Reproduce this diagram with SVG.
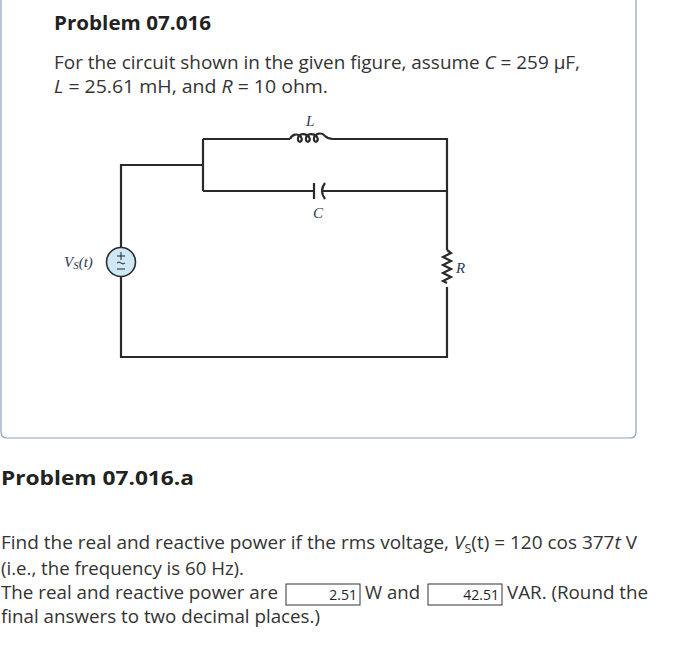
<svg xmlns="http://www.w3.org/2000/svg" width="675" height="648" viewBox="0 0 675 648">
<style>
.t{font-family:"Open Sans","Liberation Sans",sans-serif;font-size:18px;fill:#333}
.h{font-family:"Open Sans","Liberation Sans",sans-serif;font-size:20px;font-weight:bold;fill:#222}
.w{fill:none;stroke:#2a2a2a;stroke-width:2.2}
.lb{font-family:"Liberation Serif",serif;font-style:italic;font-size:15px;fill:#2a3a5a}
.bx{fill:#fff;stroke:#333;stroke-width:1}
.a{font-family:"Open Sans","Liberation Sans",sans-serif;font-size:14px;fill:#222}
</style>
<rect width="675" height="648" fill="#fff"/>
<path d="M1,-5 V432 Q1,438 7,438 H630 Q636,438 636,432 V-5" fill="none" stroke="#8aa0c0" stroke-width="1.2"/>
<text class="h" x="54" y="30" textLength="157" lengthAdjust="spacingAndGlyphs">Problem 07.016</text>
<text class="t" x="54" y="69" textLength="526" lengthAdjust="spacingAndGlyphs">For the circuit shown in the given figure, assume <tspan font-style="italic">C</tspan> = 259 μF,</text>
<text class="t" x="54" y="93" textLength="274" lengthAdjust="spacingAndGlyphs"><tspan font-style="italic">L</tspan> = 25.61 mH, and <tspan font-style="italic">R</tspan> = 10 ohm.</text>
<g id="connectors">
<path class="w" d="M121,247 V165 H203 M203,139 V191 M203,139 H290 M333,139 H447 V250 M203,191 H313 M323,191 H447 M447,287 V357 H121 V277"/>
</g>
<g id="L">
<path class="w" stroke-width="1.6" d="M290,139 C292,134 298,133 301,137 C304,142 297,144 298,138 C299,133 306,133 309,137 C312,142 305,144 306,138 C307,133 314,133 317,137 C320,142 313,144 314,138 C315,133 322,132 325,136 C327,138 330,139 333,139"/>
<text class="lb" x="306" y="126">L</text>
</g>
<g id="C">
<line class="w" x1="314" y1="183" x2="314" y2="199"/>
<path class="w" d="M325,183 Q319,191 325,199"/>
<text class="lb" x="313" y="218">C</text>
</g>
<g id="R">
<path class="w" stroke-width="1.6" d="M447,250 l4,3 l-8,4 l8,4 l-8,4 l8,4 l-8,4 l8,4 l-8,4 l4,2"/>
<text class="lb" x="456" y="273">R</text>
</g>
<g id="Vs">
<circle cx="121" cy="262" r="14.5" fill="#cfe8f5" stroke="#2a2a2a" stroke-width="1.6"/>
<path d="M117,256 h8 M121,252 v8 M117,263 q2,-2 4,0 q2,2 4,0 M117,269 h8" stroke="#222" stroke-width="1" fill="none"/>
<text class="lb" x="64" y="267">V<tspan font-size="11" dy="2">S</tspan><tspan dy="-2">(t)</tspan></text>
</g>
<text class="h" x="1" y="485" textLength="193" lengthAdjust="spacingAndGlyphs">Problem 07.016.a</text>
<text class="t" x="1" y="549" textLength="636" lengthAdjust="spacingAndGlyphs">Find the real and reactive power if the rms voltage, <tspan font-style="italic">V</tspan><tspan font-size="12" dy="4">S</tspan><tspan dy="-4">(t) = 120 cos 377</tspan><tspan font-style="italic">t</tspan> V</text>
<text class="t" x="1" y="575" textLength="243" lengthAdjust="spacingAndGlyphs">(i.e., the frequency is 60 Hz).</text>
<text class="t" x="1" y="599" textLength="277" lengthAdjust="spacingAndGlyphs">The real and reactive power are</text>
<rect class="bx" x="286" y="584" width="74" height="21"/>
<text class="a" x="357" y="600" text-anchor="end">2.51</text>
<text class="t" x="365" y="599" textLength="55" lengthAdjust="spacingAndGlyphs">W and</text>
<rect class="bx" x="428" y="584" width="74" height="21"/>
<text class="a" x="499" y="600" text-anchor="end">42.51</text>
<text class="t" x="507" y="599" textLength="141" lengthAdjust="spacingAndGlyphs">VAR. (Round the</text>
<text class="t" x="1" y="623" textLength="319" lengthAdjust="spacingAndGlyphs">final answers to two decimal places.)</text>
</svg>
